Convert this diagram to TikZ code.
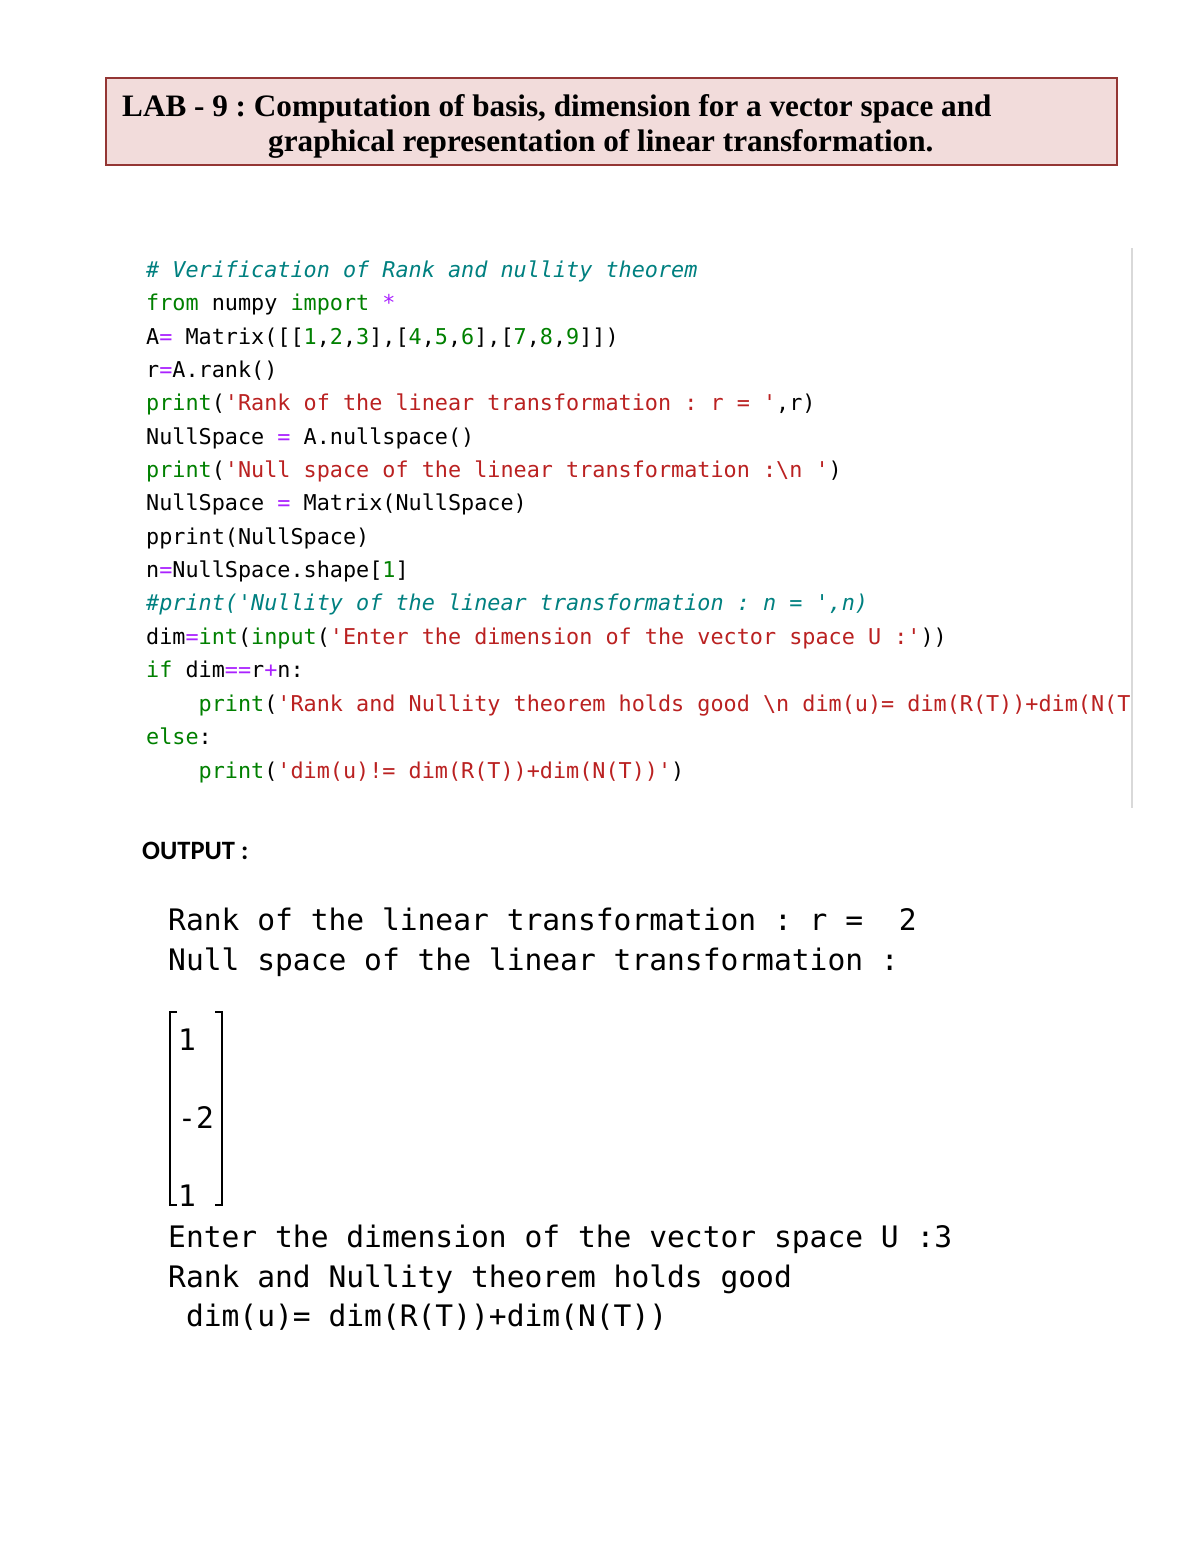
\documentclass[tikz,border=0pt]{standalone}
\usepackage{fontspec}
\setmainfont{Liberation Serif}
\newfontfamily\code{DejaVu Sans Mono}
\newfontfamily\outf{Carlito}
\definecolor{cmt}{RGB}{0,128,128}
\definecolor{kw}{RGB}{0,128,0}
\definecolor{st}{RGB}{186,33,33}
\definecolor{op}{RGB}{170,34,255}
\definecolor{boxfill}{RGB}{242,220,219}
\definecolor{boxline}{RGB}{148,54,52}
\newcommand\Cm[1]{\textcolor{cmt}{\itshape #1}}
\newcommand\Kw[1]{\textcolor{kw}{#1}}
\newcommand\St[1]{\textcolor{st}{#1}}
\newcommand\Op[1]{\textcolor{op}{#1}}
\newcommand\bs{\char92 }
\frenchspacing
\tikzset{cl/.style={anchor=base west,inner sep=0pt,font=\code\fontsize{21.8}{24}\selectfont},
ol/.style={anchor=base west,inner sep=0pt,font=\code\fontsize{29.6}{32}\selectfont},
tl/.style={anchor=base west,inner sep=0pt,font=\bfseries\fontsize{31.2}{34}\selectfont}}
\begin{document}
\begin{tikzpicture}[x=1pt,y=-1pt]
\useasboundingbox (0,0) rectangle (1200,1553);
\node[draw=boxline,line width=2.5pt,fill=boxfill,minimum width=1011pt,minimum height=87pt,inner sep=0pt] (box) at (611.5,121.5) {};
\node[tl] (t1) at (122,116) {LAB - 9 : Computation of basis, dimension for a vector space and};
\node[tl] (t2) at (268,151) {graphical representation of linear transformation.};
\draw[gray!30,line width=1.5pt] (1132,248) -- (1132,808);
\begin{scope}
\clip (100,240) rectangle (1131,800);
\node[cl] (c1) at (146,277) {\Cm{\# Verification of Rank and nullity theorem}};
\node[cl] (c2) at (146,310) {\Kw{from} numpy \Kw{import} \Op{*}};
\node[cl] (c3) at (146,344) {A\Op{=} Matrix([[\Kw{1},\Kw{2},\Kw{3}],[\Kw{4},\Kw{5},\Kw{6}],[\Kw{7},\Kw{8},\Kw{9}]])};
\node[cl] (c4) at (146,377) {r\Op{=}A.rank()};
\node[cl] (c5) at (146,410) {\Kw{print}(\St{'Rank of the linear transformation : r = '},r)};
\node[cl] (c6) at (146,444) {NullSpace \Op{=} A.nullspace()};
\node[cl] (c7) at (146,477) {\Kw{print}(\St{'Null space of the linear transformation :\bs n '})};
\node[cl] (c8) at (146,510) {NullSpace \Op{=} Matrix(NullSpace)};
\node[cl] (c9) at (146,544) {pprint(NullSpace)};
\node[cl] (c10) at (146,577) {n\Op{=}NullSpace.shape[\Kw{1}]};
\node[cl] (c11) at (146,610) {\Cm{\#print('Nullity of the linear transformation : n = ',n)}};
\node[cl] (c12) at (146,644) {dim\Op{=}\Kw{int}(\Kw{input}(\St{'Enter the dimension of the vector space U :'}))};
\node[cl] (c13) at (146,677) {\Kw{if} dim\Op{==}r\Op{+}n:};
\node[cl] (c14) at (146,711) {\phantom{xxxx}\Kw{print}(\St{'Rank and Nullity theorem holds good \bs n dim(u)= dim(R(T))+dim(N(T))'})};
\node[cl] (c15) at (146,744) {\Kw{else}:};
\node[cl] (c16) at (146,778) {\phantom{xxxx}\Kw{print}(\St{'dim(u)!= dim(R(T))+dim(N(T))'})};
\end{scope}
\node[anchor=base west,inner sep=0pt,font=\outf\bfseries\fontsize{26.5}{28}\selectfont] (out) at (142,859) {OUTPUT :};
\node[ol] (o1) at (168,930) {Rank of the linear transformation : r = \ 2};
\node[ol] (o2) at (168,970) {Null space of the linear transformation :};
\draw[line width=2.5pt] (177,1012) -- (170,1012) -- (170,1205) -- (177,1205);
\draw[line width=2.5pt] (215,1012) -- (222,1012) -- (222,1205) -- (215,1205);
\node[ol] (m1) at (178,1050) {1};
\node[ol] (m2) at (178,1128) {-2};
\node[ol] (m3) at (178,1206) {1};
\node[ol] (o3) at (168,1247) {Enter the dimension of the vector space U :3};
\node[ol] (o4) at (168,1287) {Rank and Nullity theorem holds good};
\node[ol] (o5) at (168,1326) { \ dim(u)= dim(R(T))+dim(N(T))};
\end{tikzpicture}
\end{document}
